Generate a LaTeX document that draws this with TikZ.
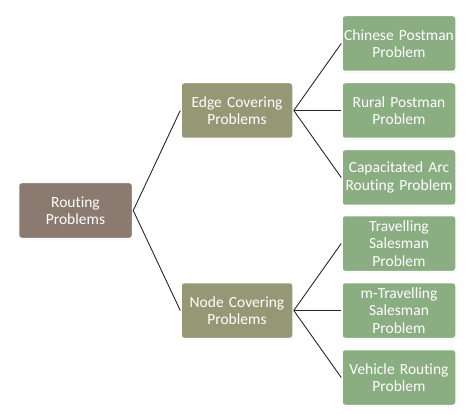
\documentclass[tikz,border=0pt]{standalone}
\usepackage{fontspec}
\setmainfont{Carlito}[Ligatures=NoCommon]
\usetikzlibrary{positioning,shadows}

\definecolor{rootcol}{RGB}{139,122,112}
\definecolor{midcol}{RGB}{150,152,117}
\definecolor{leafcol}{RGB}{138,173,130}

\begin{document}
\begin{tikzpicture}[x=1pt,y=1pt,
node distance=67pt,
line width=0.9pt]
\tikzstyle{every node}=[rectangle,rounded corners=3pt,
 minimum width=114pt, minimum height=56pt, text width=110pt, inner xsep=2pt, align=center,
 draw=white, line width=1.5pt, text=white,
 font=\fontsize{15.5}{17.5}\selectfont,
 drop shadow={opacity=0.2, shadow xshift=0.6pt, shadow yshift=-0.8pt}]
 \tikzset{
 	rootBox/.style={fill=rootcol},
 	midBox/.style={fill=midcol, minimum width=112pt, text width=108pt},
 	leafBox/.style={fill=leafcol}
 }

\useasboundingbox (0,0) rectangle (474,413);

\node[rootBox] (RP) at (75.5,202.5) {Routing\\Problems};

%middle level
\node[midBox] (EC) at (237,302.5) {Edge Covering\\Problems};
\node[midBox] (NC) at (237,102.5) {Node Covering\\Problems};

%---------------- leaves ------------
\node[leafBox, node distance=162pt, right of=EC] (RPP) {Rural Postman\\Problem};
\node[leafBox, above of=RPP] (CPP) {Chinese Postman\\Problem};
\node[leafBox, below of=RPP] (CARP) {Capacitated Arc\\Routing Problem};

\node[leafBox, node distance=162pt, right of=NC] (MTSP) {m-Travelling\\Salesman\\Problem};
\node[leafBox, above of=MTSP] (TSP) {Travelling\\Salesman\\Problem};
\node[leafBox, below of=MTSP] (VRP) {Vehicle Routing\\Problem};

\draw[black!85] (EC.west) -- (RP.east) -- (NC.west);
\foreach \leaf in {CPP,RPP,CARP}
  \draw[black!85] (EC.east) -- (\leaf.west);
\foreach \leaf in {TSP,MTSP,VRP}
  \draw[black!85] (NC.east) -- (\leaf.west);

\end{tikzpicture}
\end{document}
